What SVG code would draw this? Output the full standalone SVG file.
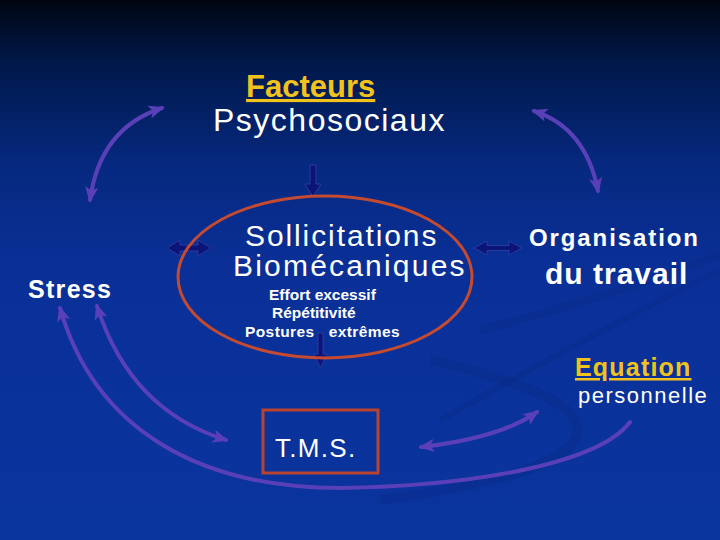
<svg xmlns="http://www.w3.org/2000/svg" width="720" height="540" viewBox="0 0 720 540">
  <defs>
    <linearGradient id="bg" x1="0" y1="0" x2="0" y2="1">
      <stop offset="0" stop-color="#000510"/>
      <stop offset="0.11" stop-color="#001848"/>
      <stop offset="0.3" stop-color="#06287e"/>
      <stop offset="0.5" stop-color="#0a3098"/>
      <stop offset="1" stop-color="#0a349e"/>
    </linearGradient>
    <marker id="ah" viewBox="0 0 12 10" refX="10" refY="5" markerWidth="4" markerHeight="3.4" orient="auto-start-reverse" markerUnits="strokeWidth">
      <path d="M0,0 L12,5 L0,10 L3,5 Z" fill="#5a40b8"/>
    </marker>
    <style>
      .curve{fill:none;stroke:#5a40b8;stroke-width:4;stroke-linecap:round}
      .fat{fill:#0c1478;stroke:#2a3aa0;stroke-width:1}
      .w{font-family:"Liberation Sans",Arial,sans-serif;fill:#ffffff}
      .y{font-family:"Liberation Sans",Arial,sans-serif;fill:#f2c21c;font-weight:bold;text-decoration:underline}
      .b{font-weight:bold}
      .swoosh{fill:none;stroke:#05226e;stroke-opacity:0.18}
    </style>
  </defs>
  <rect width="720" height="540" fill="url(#bg)"/>
  <g id="background">
    <path class="swoosh" d="M430,360 Q560,390 575,420 Q600,470 380,500" stroke-width="10"/>
    <path class="swoosh" d="M720,255 Q600,300 480,330" stroke-width="8"/>
    <path class="swoosh" d="M720,270 Q600,330 440,420" stroke-width="6"/>
  </g>
  <g id="connectors">
    <path class="curve" d="M90,200 Q100,128 162,108" marker-start="url(#ah)" marker-end="url(#ah)"/>
    <path class="curve" d="M534,111 Q586,128 598,191" marker-start="url(#ah)" marker-end="url(#ah)"/>
    <path class="curve" d="M97,306 Q130,410 226,440" marker-start="url(#ah)" marker-end="url(#ah)"/>
    <path class="curve" d="M60,308 C95,430 200,488 340,488 C480,486 600,462 630,422" marker-start="url(#ah)"/>
    <path class="curve" d="M421,447 Q500,438 537,412" marker-start="url(#ah)" marker-end="url(#ah)"/>
    <polygon class="fat" points="167,248 180,240 180,245 198,245 198,240 211,248 198,256 198,251 180,251 180,256"/>
    <polygon class="fat" points="474,248 487,241 487,245.5 509,245.5 509,241 522,248 509,255 509,250.5 487,250.5 487,255"/>
    <polygon class="fat" points="310,165 316,165 316,184 321,184 313,197 305,184 310,184"/>
    <polygon class="fat" points="318,333 323,333 323,354 327,354 320.5,368 314,354 318,354"/>
  </g>
  <g id="facteurs">
    <text class="y" x="246" y="97" font-size="31">Facteurs</text>
    <text class="w" x="213" y="131" font-size="32" letter-spacing="1.5">Psychosociaux</text>
  </g>
  <g id="sollicitations">
    <ellipse cx="325" cy="277" rx="147" ry="81" fill="none" stroke="#c44a30" stroke-width="3"/>
    <text class="w" x="245" y="246" font-size="30" letter-spacing="1.9">Sollicitations</text>
    <text class="w" x="233" y="276" font-size="30" letter-spacing="2.2">Biomécaniques</text>
    <text class="w b" x="269" y="300" font-size="15.5">Effort excessif</text>
    <text class="w b" x="272" y="318" font-size="15.5">Répétitivité</text>
    <text class="w b" x="245" y="337" font-size="15.5" letter-spacing="0.4" xml:space="preserve">Postures   extrêmes</text>
  </g>
  <g id="stress">
    <text class="w b" x="28" y="298" font-size="25" letter-spacing="1.3">Stress</text>
  </g>
  <g id="organisation">
    <text class="w b" x="529" y="246" font-size="24" letter-spacing="1.9">Organisation</text>
    <text class="w b" x="545" y="284" font-size="30" letter-spacing="1">du travail</text>
  </g>
  <g id="equation">
    <text class="y" x="575" y="376" font-size="25" letter-spacing="1.2">Equation</text>
    <text class="w" x="578" y="403" font-size="22" letter-spacing="1.5">personnelle</text>
  </g>
  <g id="tms">
    <rect x="263" y="410" width="115" height="63" fill="none" stroke="#b84430" stroke-width="3"/>
    <text class="w" x="275" y="457" font-size="26" letter-spacing="1.3">T.M.S.</text>
  </g>
</svg>
